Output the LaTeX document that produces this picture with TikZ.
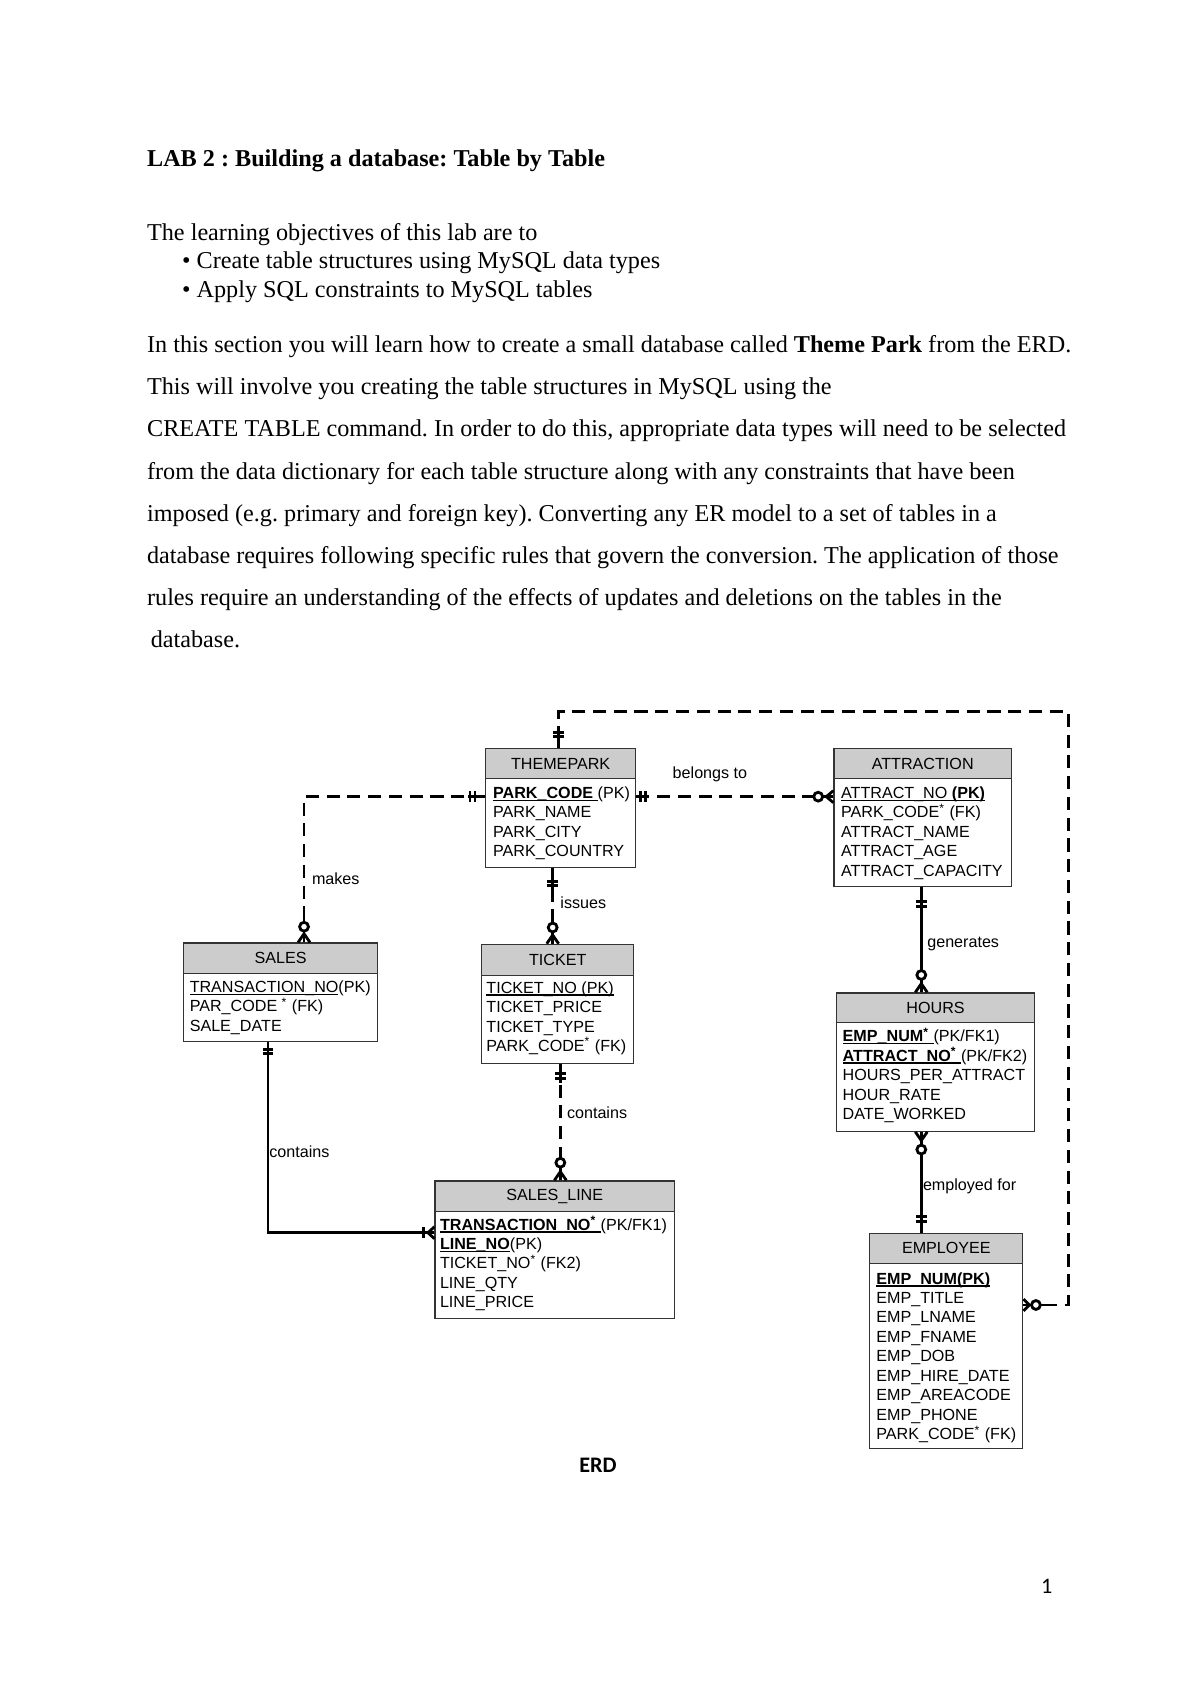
\documentclass[tikz,border=0pt]{standalone}
\usepackage{fontspec}
\setmainfont{Liberation Serif}
\newfontfamily\erdfont{Liberation Sans}
\newfontfamily\calfont{Carlito}
\usetikzlibrary{calc}
\newsavebox\erdulbox
\newcommand\erdul[1]{\sbox\erdulbox{#1}\rlap{\rule[-1.3pt]{\wd\erdulbox}{0.7pt}}\usebox\erdulbox}
\newcommand\erdfk{\textsuperscript{*}}
\newcommand\erdtab[7]{%
  \node[hdrbox, minimum width={(#3-#2)*0.5368pt}, minimum height={(#5-#4)*0.5368pt}] (#1h) at (#2,#4) {#7};
  \node[bodybox, minimum width={(#3-#2)*0.5368pt}, minimum height={(#6-#5)*0.5368pt}] (#1) at (#2,#5) {};
}
\newcommand\erdrows[4]{%
  \foreach \rowtxt [count=\i] in {#4}
    \node[field] (#1r\i) at (#2,{#3+5.3+(\i-1)*18.0}) {\rowtxt};
}
\newcommand\erdOneOne[5]{%
  \begin{scope}[shift={#1}, rotate=#2]
    \draw[rel] (0,0) -- (#5,0);
    \draw[rel] (#3,-5) -- (#3,5) (#4,-5) -- (#4,5);
  \end{scope}}
\newcommand\erdZeroMany[5]{%
  \begin{scope}[shift={#1}, rotate=#2]
    \draw[rel] (0,0) -- (#5,0);
    \draw[rel] (0,-5.5) -- (#3,0) -- (0,5.5);
    \draw[rel, fill=white] (#4,0) circle[radius=2.2pt];
  \end{scope}}
\newcommand\erdOneMany[5]{%
  \begin{scope}[shift={#1}, rotate=#2]
    \draw[rel] (0,0) -- (#5,0);
    \draw[rel] (0,-5.5) -- (#3,0) -- (0,5.5);
    \draw[rel] (#4,-5) -- (#4,5);
  \end{scope}}
\begin{document}
\frenchspacing
\begin{tikzpicture}[x=0.5368pt, y=-0.5368pt,
  hdrbox/.style={draw=black!80, line width=0.6pt, fill=black!20, inner sep=0pt, anchor=north west, font=\erdfont\fontsize{8}{9.88}\selectfont},
  bodybox/.style={draw=black!80, line width=0.6pt, fill=white, inner sep=0pt, anchor=north west},
  field/.style={anchor=base west, inner sep=0pt, font=\erdfont\fontsize{8}{9.88}\selectfont},
  lbl/.style={anchor=base west, inner sep=0pt, font=\erdfont\fontsize{8}{9.88}\selectfont},
  txt/.style={anchor=base west, inner sep=0pt, font=\fontsize{12}{14}\selectfont},
  rel/.style={line width=1.4pt, draw=black},
  reldash/.style={rel, dash pattern=on 6.5pt off 3.8pt}]
\fill[white] (0,0) rectangle (1109,1567.5);
\useasboundingbox (0,0) rectangle (1109,1567.5);

% ---- body text ----
\node[txt] (title) at (135.6,154) {\textbf{LAB 2 : Building a database: Table by Table}};
\node[txt] (l1) at (135.6,222.5) {The learning objectives of this lab are to};
\node[txt] (l2) at (168,248.5) {• Create table structures using MySQL data types};
\node[txt] (l3) at (168,274.5) {• Apply SQL constraints to MySQL tables};
\node[txt] (p1) at (135.6,326) {In this section you will learn how to create a small database called \textbf{Theme Park} from the ERD.};
\node[txt] (p2) at (135.6,364.9) {This will involve you creating the table structures in MySQL using the};
\node[txt] (p3) at (135.6,403.8) {CREATE TABLE command. In order to do this, appropriate data types will need to be selected};
\node[txt] (p4) at (135.6,442.7) {from the data dictionary for each table structure along with any constraints that have been};
\node[txt] (p5) at (135.6,481.6) {imposed (e.g. primary and foreign key). Converting any ER model to a set of tables in a};
\node[txt] (p6) at (135.6,520.5) {database requires following specific rules that govern the conversion. The application of those};
\node[txt] (p7) at (135.6,559.4) {rules require an understanding of the effects of updates and deletions on the tables in the};
\node[txt] (p8) at (139,598.3) {database.};

% ---- tables ----
\erdtab{tp}{448.3}{586.9}{691}{719.3}{801}{THEMEPARK}
\erdrows{tp}{455.4}{732.6}{{\erdul{\textbf{PARK\_CODE }}(PK)},PARK\_NAME,PARK\_CITY,PARK\_COUNTRY}
\erdtab{att}{770.2}{934.3}{691}{719.3}{818.6}{ATTRACTION}
\erdrows{att}{777}{732.6}{{\erdul{ATTRACT\_NO \textbf{(PK)}}},{PARK\_CODE\erdfk{} (FK)},ATTRACT\_NAME,ATTRACT\_AGE,ATTRACT\_CAPACITY}
\erdtab{sal}{169.4}{348.1}{871}{899}{961.8}{SALES}
\erdrows{sal}{175}{911.9}{{\erdul{TRANSACTION\_NO}(PK)},{PAR\_CODE \erdfk{} (FK)},SALE\_DATE}
\erdtab{tic}{444.5}{585.3}{872.2}{900.8}{982.1}{TICKET}
\erdrows{tic}{449.2}{912.5}{{\erdul{TICKET\_NO (PK)}},TICKET\_PRICE,TICKET\_TYPE,{PARK\_CODE\erdfk{} (FK)}}
\erdtab{hrs}{772.9}{955.4}{917.1}{944.3}{1045}{HOURS}
\erdrows{hrs}{778.5}{957.5}{{\erdul{\textbf{EMP\_NUM\erdfk{} }}(PK/FK1)},{\erdul{\textbf{ATTRACT\_NO\erdfk{} }}(PK/FK2)},HOURS\_PER\_ATTRACT,HOUR\_RATE,DATE\_WORKED}
\erdtab{sl}{401.5}{622.8}{1090.9}{1119}{1217.8}{SALES\_LINE}
\erdrows{sl}{406.3}{1131.5}{{\erdul{\textbf{TRANSACTION\_NO\erdfk{} }}(PK/FK1)},{\erdul{\textbf{LINE\_NO}}(PK)},{TICKET\_NO\erdfk{} (FK2)},LINE\_QTY,LINE\_PRICE}
\erdtab{emp}{803.4}{944.8}{1139.3}{1167}{1338.5}{EMPLOYEE}
\erdrows{emp}{809.6}{1181.4}{{\erdul{\textbf{EMP\_NUM(PK)}}},EMP\_TITLE,EMP\_LNAME,EMP\_FNAME,EMP\_DOB,EMP\_HIRE\_DATE,EMP\_AREACODE,EMP\_PHONE,{PARK\_CODE\erdfk{} (FK)}}

% ---- connectors ----
\coordinate (bA1) at (516.1,657.7);
\coordinate (bA2) at (987.3,657.7);
\coordinate (bA3) at (987.3,1206.1);
\draw[reldash] (emp.east |- bA3) -- (bA3) -- (bA2) -- (bA1) -- (bA1 |- tph.north);
\coordinate (bB) at (281,736.3);
\draw[reldash] (tp.west |- bB) -- (bB) -- (bB |- salh.north);
\draw[reldash] (tp.east |- bB) -- (att.west |- bB);
\coordinate (xD) at (510.8,0);
\draw[reldash] (tp.south -| xD) -- (tich.north -| xD);
\coordinate (xE) at (517.9,0);
\draw[reldash] (tic.south -| xE) -- (slh.north -| xE);
\coordinate (bF) at (247.7,1139.3);
\draw[rel] (sal.south -| bF) -- (bF) -- (sl.west |- bF);
\coordinate (xG) at (851.5,0);
\draw[rel] (att.south -| xG) -- (hrsh.north -| xG);
\draw[rel] (hrs.south -| xG) -- (emph.north -| xG);

% ---- cardinality marks ----
\erdOneOne{(bA1 |- tph.north)}{90}{10.1}{14.2}{18}
\erdZeroMany{(emp.east |- bA3)}{0}{5.5}{11.5}{27}
\erdOneOne{(tp.west |- bB)}{180}{9.3}{13.9}{16}
\erdZeroMany{(bB |- salh.north)}{90}{8}{14.5}{22}
\erdOneOne{(tp.east |- bB)}{0}{3.7}{8.9}{12}
\erdZeroMany{(att.west |- bB)}{180}{6.5}{14}{20}
\erdOneOne{(tp.south -| xD)}{270}{12.3}{16.3}{20}
\erdZeroMany{(tich.north -| xD)}{90}{8}{15}{22}
\erdOneOne{(tic.south -| xE)}{270}{9}{13.9}{18}
\erdZeroMany{(slh.north -| xE)}{90}{8}{16.3}{24}
\erdOneOne{(sal.south -| bF)}{270}{7.1}{11.1}{14}
\erdOneMany{(sl.west |- bF)}{180}{6}{9.9}{14}
\erdOneOne{(att.south -| xG)}{270}{13.2}{17.8}{20}
\erdZeroMany{(hrsh.north -| xG)}{90}{8}{16}{24}
\erdZeroMany{(hrs.south -| xG)}{270}{8}{16.3}{24}
\erdOneOne{(emph.north -| xG)}{90}{10.2}{14.8}{18}

% ---- relationship labels ----
\node[lbl] (lbMakes) at (288,817.8) {makes};
\node[lbl] (lbIssues) at (517.6,840) {issues};
\node[lbl] (lbBelongs) at (621.4,719.2) {belongs to};
\node[lbl] (lbGen) at (856.7,875.4) {generates};
\node[lbl] (lbContL) at (248.6,1069.8) {contains};
\node[lbl] (lbContR) at (523.7,1033.4) {contains};
\node[lbl] (lbEmp) at (852.7,1100.6) {employed for};

% ---- captions ----
\node[inner sep=0pt, font=\calfont\bfseries\fontsize{11}{13}\selectfont] (erd) at (552.7,1354) {ERD};
\node[inner sep=0pt, font=\calfont\fontsize{11}{13}\selectfont] (pgno) at (967.5,1466) {1};
\end{tikzpicture}
\end{document}
